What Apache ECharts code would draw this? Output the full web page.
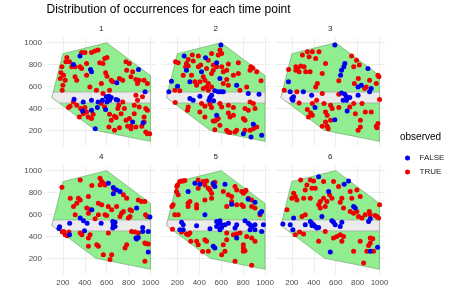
<!DOCTYPE html>
<html>
<head>
<meta charset="utf-8">
<script src="https://cdn.jsdelivr.net/npm/echarts@6/dist/echarts.min.js"></script>
<style>
  html, body { margin: 0; padding: 0; background: #fff; }
  #chart { width: 474px; height: 292px; }
</style>
</head>
<body>
<div id="chart"></div>
<script>
const panelNames = ['1', '2', '3', '4', '5', '6'];
const legendNames = ['FALSE', 'TRUE'];

// region drawn in every panel
const hullX = [100, 200, 600, 1000, 1000, 500];
const hullY = [500, 900, 1000, 700, 100, 200];
// grey band (clipped to the hull)
const bandX = [100, 112, 1000, 1000, 167];
const bandY = [500, 550, 550, 450, 450];

const true1 = [[236,866],[227,826],[260,826],[281,780],[311,780],[356,780],[371,765],[191,780],[182,726],[206,704],[176,674],[221,658],[200,613],[194,567],[371,912],[401,912],[461,912],[491,924],[521,933],[536,817],[566,811],[581,857],[602,866],[590,726],[551,628],[602,695],[641,658],[656,643],[716,674],[746,658],[776,826],[806,811],[782,750],[836,735],[821,689],[866,665],[896,658],[881,628],[941,658],[971,628],[416,704],[446,597],[506,567],[626,567],[416,811],[311,689],[326,658],[926,506],[866,521],[881,475],[851,430],[896,414],[956,399],[971,384],[941,323],[851,353],[806,308],[821,238],[866,231],[920,238],[941,277],[956,186],[992,170],[971,170],[266,421],[251,408],[296,460],[326,430],[362,399],[401,408],[416,369],[350,323],[386,353],[431,323],[476,347],[461,308],[551,445],[581,414],[626,347],[671,329],[686,317],[701,399],[710,430],[746,460],[761,399],[731,353],[641,292],[620,231],[671,201],[716,225],[776,292],[791,238],[821,216],[566,536]];
const false1 = [[356,878],[296,802],[452,756],[461,735],[692,634],[890,756],[950,552],[932,271],[836,277],[596,506],[611,491],[626,475],[602,460],[620,512],[641,500],[686,481],[701,475],[560,475],[521,460],[461,475],[386,460],[302,484],[380,378],[461,384],[515,408],[590,390],[495,215]];

const true2 = [[207,817],[183,826],[283,811],[299,848],[275,780],[299,787],[336,887],[391,878],[345,833],[413,796],[391,780],[466,765],[482,841],[512,902],[573,887],[588,933],[604,902],[527,796],[558,780],[527,750],[512,719],[604,780],[619,735],[650,750],[665,805],[756,817],[619,628],[650,665],[665,613],[711,704],[756,719],[870,780],[888,770],[863,750],[924,735],[963,652],[771,567],[832,597],[329,704],[360,643],[253,704],[375,613],[405,643],[436,689],[451,658],[482,628],[466,597],[436,582],[482,567],[512,597],[177,567],[222,561],[180,455],[299,414],[292,384],[420,445],[451,421],[405,369],[497,439],[512,408],[588,445],[604,414],[665,430],[711,408],[863,460],[893,445],[817,399],[847,384],[908,399],[451,323],[558,298],[542,286],[527,286],[573,308],[665,359],[680,323],[711,338],[802,308],[817,292],[542,207],[588,247],[650,201],[665,186],[680,180],[726,186],[741,201],[817,201],[863,201],[893,216],[924,231]];
const false2 = [[597,979],[262,878],[457,863],[558,817],[283,750],[420,735],[314,643],[146,649],[122,552],[201,603],[588,674],[741,613],[573,552],[596,552],[619,552],[542,561],[314,491],[344,475],[405,512],[497,500],[512,521],[488,475],[530,470],[847,536],[945,530],[558,338],[893,256],[802,170],[872,140],[969,155]];

const true3 = [[170,756],[236,780],[251,765],[281,787],[236,750],[266,735],[311,780],[326,735],[366,735],[296,887],[341,918],[387,918],[357,872],[417,857],[447,918],[507,811],[477,719],[432,628],[628,652],[745,880],[790,840],[815,796],[764,780],[909,658],[985,704],[994,689],[970,628],[864,582],[879,597],[770,628],[806,674],[130,567],[245,552],[417,597],[477,536],[628,530],[1000,481],[266,451],[387,445],[493,445],[341,390],[372,359],[387,338],[351,323],[507,369],[522,338],[553,292],[507,277],[477,238],[522,238],[531,216],[764,445],[840,445],[779,353],[870,369],[825,292],[825,231],[804,201],[970,238],[985,262],[976,225],[924,369],[728,414],[628,408],[426,475],[553,430],[568,399]];
const false3 = [[592,979],[683,811],[674,780],[653,750],[644,704],[894,765],[834,613],[804,597],[924,582],[909,552],[169,643],[184,552],[215,506],[209,475],[200,491],[305,552],[380,521],[653,542],[683,530],[698,506],[728,500],[668,475],[698,475],[804,521],[411,408],[704,378],[592,298]];

const true4 = [[191,849],[358,915],[464,864],[539,930],[554,900],[569,885],[584,870],[539,870],[433,764],[667,830],[782,749],[752,779],[267,749],[327,703],[342,749],[358,733],[297,673],[312,597],[418,658],[448,642],[433,612],[524,703],[554,688],[524,597],[584,597],[599,591],[614,673],[645,642],[690,673],[721,582],[736,612],[752,627],[812,642],[827,633],[812,582],[797,567],[888,733],[918,718],[948,718],[954,597],[970,582],[494,561],[206,445],[221,415],[240,405],[195,440],[255,439],[358,430],[373,415],[433,385],[448,415],[433,309],[509,324],[524,309],[569,233],[645,233],[630,188],[615,430],[767,294],[782,324],[827,445],[858,439],[888,430],[948,339],[963,333],[979,330],[948,173]];
const false4 = [[615,885],[660,845],[690,824],[721,809],[660,788],[464,642],[358,567],[388,543],[421,519],[262,519],[170,488],[164,473],[261,415],[397,451],[549,519],[655,536],[660,506],[676,530],[655,476],[676,491],[873,658],[867,385],[873,376],[888,391],[928,445],[928,482],[994,576],[979,445],[979,258]];

const true5 = [[222,900],[237,906],[253,906],[268,909],[192,809],[207,779],[195,855],[201,870],[150,673],[161,688],[298,703],[314,718],[298,673],[390,915],[436,900],[451,870],[466,906],[527,870],[542,894],[390,839],[482,839],[497,824],[375,688],[375,658],[451,733],[512,749],[512,794],[619,809],[665,779],[695,764],[650,673],[726,855],[741,824],[787,809],[802,794],[817,809],[825,820],[695,718],[741,688],[787,688],[802,673],[847,749],[878,733],[878,673],[908,658],[954,597],[176,597],[207,597],[155,465],[238,439],[283,421],[298,415],[314,430],[322,355],[375,355],[390,324],[451,370],[430,262],[466,355],[482,264],[619,324],[634,264],[604,233],[650,430],[711,415],[741,421],[771,430],[650,370],[802,324],[802,294],[817,270],[802,264],[726,173],[878,136],[908,355],[878,385],[832,400]];
const false5 = [[360,885],[405,876],[527,885],[542,855],[298,809],[634,876],[695,694],[847,739],[908,712],[969,627],[954,612],[451,597],[238,530],[253,506],[222,461],[253,461],[375,497],[497,470],[558,536],[573,521],[588,542],[604,506],[558,491],[604,482],[588,461],[634,506],[665,521],[726,476],[741,506],[817,542],[847,521],[863,506],[878,491],[863,461],[908,461],[908,506],[969,445],[985,506],[527,309],[542,294],[741,385]];

const true6 = [[280,915],[368,915],[398,906],[337,870],[413,839],[322,824],[383,839],[216,794],[231,764],[200,749],[246,733],[307,749],[368,749],[489,900],[544,779],[565,749],[459,718],[489,749],[444,688],[520,718],[504,673],[459,658],[580,900],[626,855],[656,749],[641,712],[671,658],[732,809],[793,824],[747,749],[823,764],[732,627],[763,612],[793,627],[808,582],[839,567],[869,597],[906,627],[915,597],[960,591],[976,582],[991,567],[1000,688],[155,642],[292,582],[322,597],[270,439],[231,415],[307,421],[444,355],[580,385],[610,400],[641,415],[671,400],[656,355],[763,264],[823,355],[915,339],[900,318],[884,264],[945,264],[938,379],[915,385],[854,158],[504,445]];
const false6 = [[444,945],[717,906],[677,876],[535,809],[763,673],[778,658],[565,542],[656,530],[641,491],[474,582],[216,567],[118,512],[185,506],[209,461],[322,506],[368,536],[383,521],[398,506],[413,491],[429,476],[444,482],[383,500],[580,530],[595,506],[915,561],[900,536],[982,300],[550,258],[915,264]];

const trueByPanel = [true1, true2, true3, true4, true5, true6];
const falseByPanel = [false1, false2, false3, false4, false5, false6];

const AXIS_MIN = 55;
const AXIS_MAX = 1045;
const PANEL_LEFT = [47, 161.5, 276];
const PANEL_TOP = [37.8, 165.7];
const PANEL_W = 108.5;
const PANEL_H = 108.5;

const RED = '#f00000';
const BLUE = '#0000f0';
const GRID_LINE = { color: '#e8e8e8', width: 0.8 };
const LABEL = { color: '#4d4d4d', fontSize: 8, fontFamily: 'Liberation Sans', formatter: (v) => String(v) };

function polygonSeries(xs, ys, idx, fill, stroke, z) {
  return {
    type: 'custom',
    xAxisIndex: idx,
    yAxisIndex: idx,
    silent: true,
    z: z,
    data: xs.map((x, i) => [x, ys[i]]),
    renderItem: (params, api) => {
      if (params.dataIndex !== 0) return null;
      const points = xs.map((x, i) => api.coord([x, ys[i]]));
      return {
        type: 'polygon',
        shape: { points: points },
        style: { fill: fill, stroke: stroke, lineWidth: 0.6 },
      };
    },
  };
}

const grids = [];
const xAxes = [];
const yAxes = [];
const series = [];
const graphics = [];

panelNames.forEach((name, i) => {
  const row = Math.floor(i / 3);
  const col = i % 3;
  grids.push({ left: PANEL_LEFT[col], top: PANEL_TOP[row], width: PANEL_W, height: PANEL_H });
  xAxes.push({
    gridIndex: i,
    type: 'value',
    min: AXIS_MIN,
    max: AXIS_MAX,
    axisLine: { show: false },
    axisTick: { show: false },
    splitLine: { show: true, showMinLine: false, showMaxLine: false, lineStyle: GRID_LINE },
    axisLabel: { show: row === 1, showMinLabel: false, showMaxLabel: false, margin: 5, ...LABEL },
  });
  yAxes.push({
    gridIndex: i,
    type: 'value',
    min: AXIS_MIN,
    max: AXIS_MAX,
    axisLine: { show: false },
    axisTick: { show: false },
    splitLine: { show: true, showMinLine: false, showMaxLine: false, lineStyle: GRID_LINE },
    axisLabel: { show: col === 0, showMinLabel: false, showMaxLabel: false, margin: 5, ...LABEL },
  });
  series.push(polygonSeries(hullX, hullY, i, '#90ee90', '#5f9f5f', 1));
  series.push(polygonSeries(bandX, bandY, i, '#ebebeb', '#9a9a9a', 2));
  series.push({
    type: 'scatter', name: 'TRUE', xAxisIndex: i, yAxisIndex: i,
    data: trueByPanel[i], symbolSize: 5, itemStyle: { color: RED, opacity: 1 }, z: 3,
  });
  series.push({
    type: 'scatter', name: 'FALSE', xAxisIndex: i, yAxisIndex: i,
    data: falseByPanel[i], symbolSize: 5, itemStyle: { color: BLUE, opacity: 1 }, z: 4,
  });
  graphics.push({
    type: 'text',
    x: PANEL_LEFT[col] + PANEL_W / 2,
    y: PANEL_TOP[row] - 9,
    style: { text: name, textAlign: 'center', textVerticalAlign: 'middle', fontSize: 8, fontFamily: 'Liberation Sans', fill: '#1a1a1a' },
  });
});

graphics.push({
  type: 'text', x: 46.5, y: 10,
  style: { text: 'Distribution of occurrences for each time point', textAlign: 'left', textVerticalAlign: 'middle', fontSize: 12, fontFamily: 'Liberation Sans', fill: '#000' },
});
graphics.push({
  type: 'text', x: 400, y: 137.5,
  style: { text: 'observed', textAlign: 'left', textVerticalAlign: 'middle', fontSize: 10, fontFamily: 'Liberation Sans', fill: '#000' },
});

const chart = echarts.init(document.getElementById('chart'), null, { renderer: 'canvas' });
chart.setOption({
  animation: false,
  backgroundColor: '#fff',
  grid: grids,
  xAxis: xAxes,
  yAxis: yAxes,
  series: series,
  graphic: graphics,
  legend: {
    data: legendNames,
    orient: 'vertical',
    left: 400,
    top: 149,
    icon: 'circle',
    itemWidth: 14,
    itemHeight: 5,
    itemGap: 6,
    selectedMode: false,
    textStyle: { fontSize: 8, color: '#1a1a1a', fontFamily: 'Liberation Sans' },
  },
});
</script>
</body>
</html>
